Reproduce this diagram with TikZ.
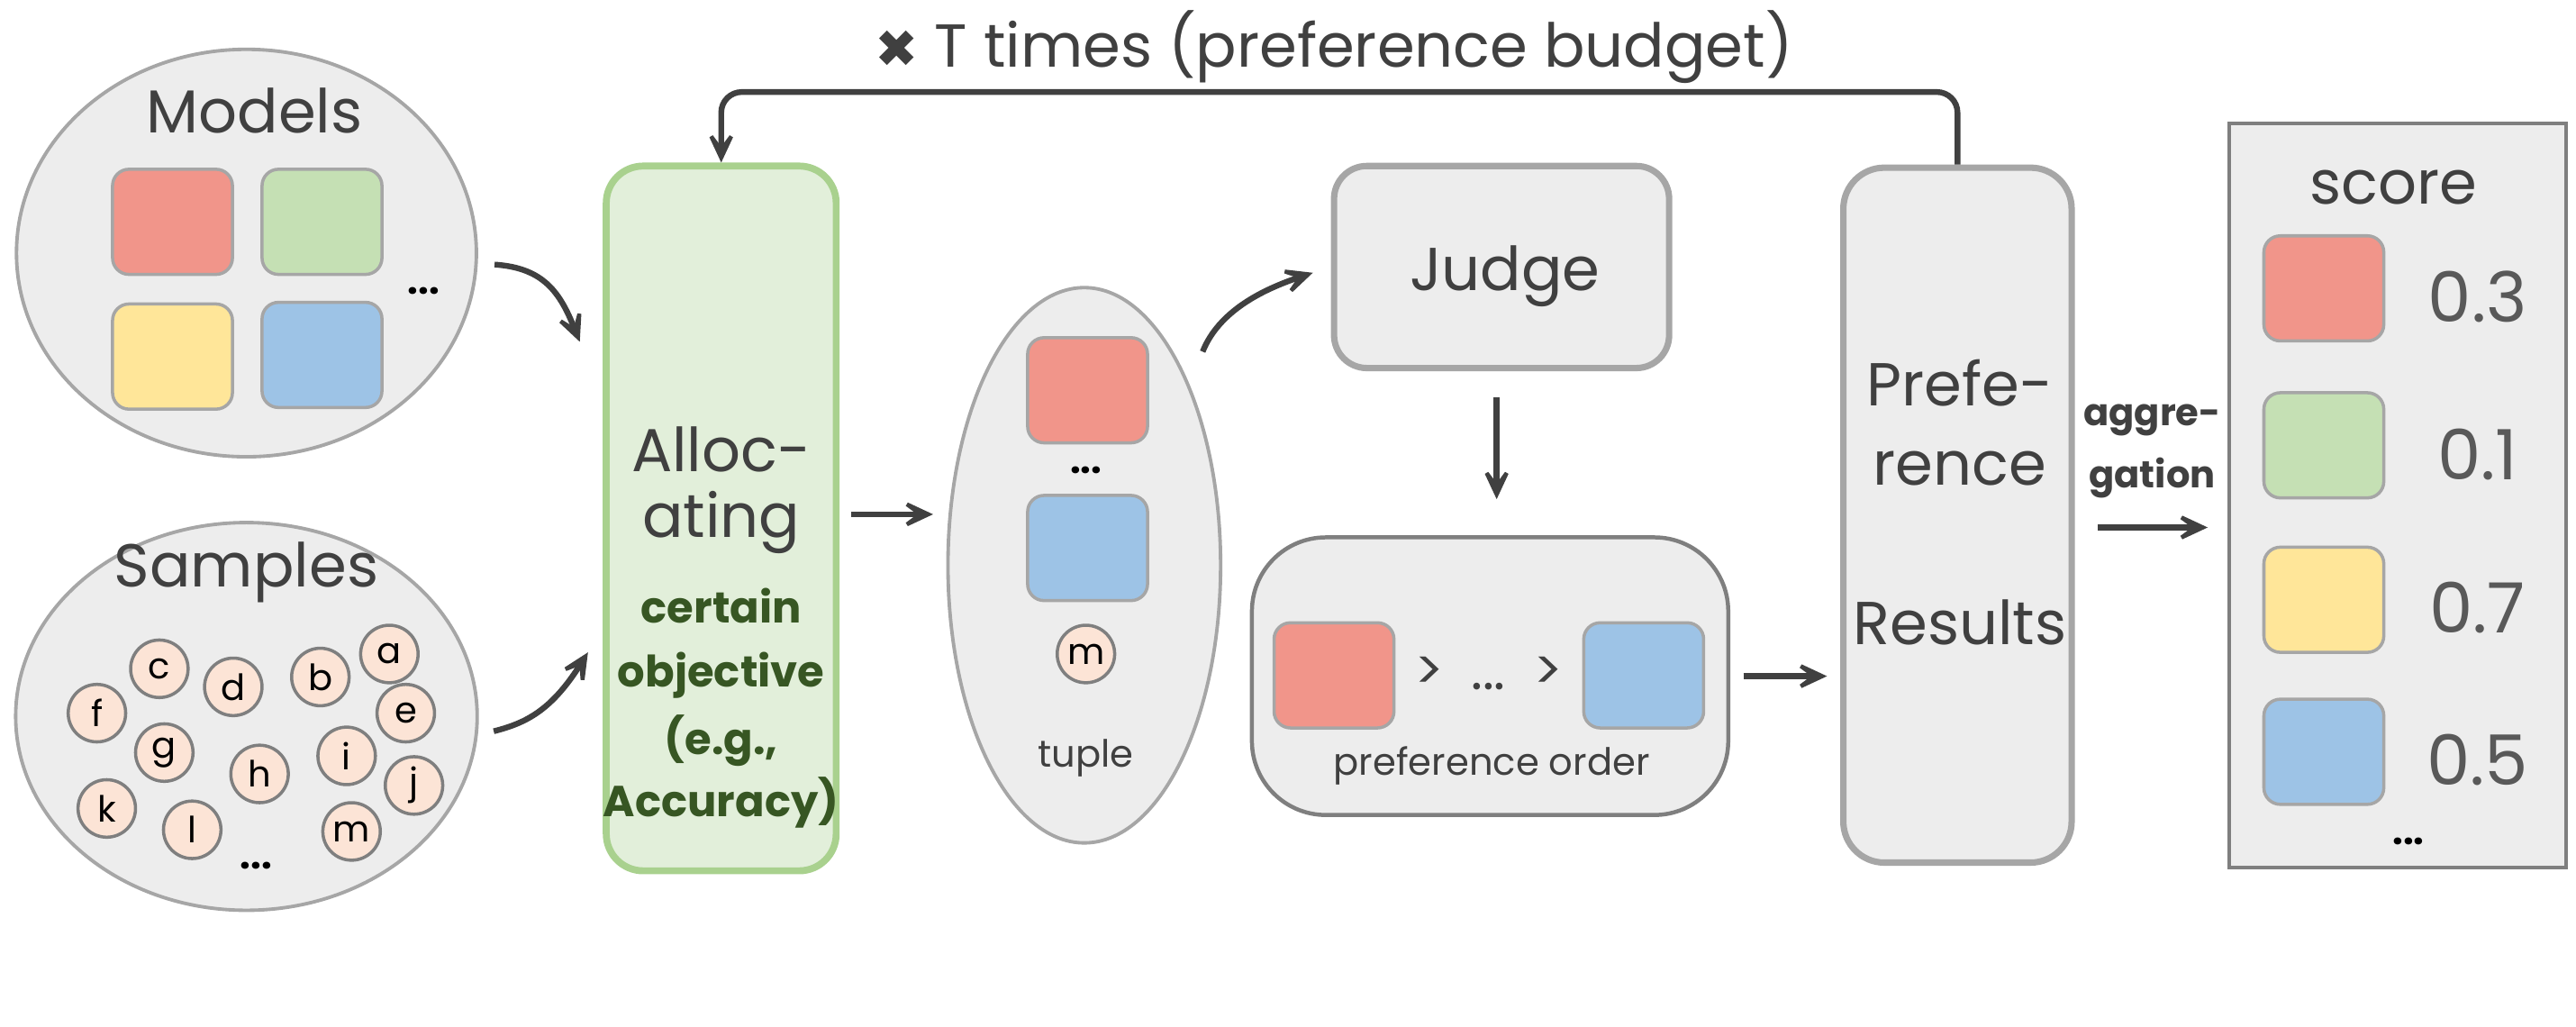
\documentclass[tikz,border=0pt]{standalone}
\usepackage{fontspec}
\setmainfont{Poppins}
\newfontfamily\symfont{DejaVu Sans}
\usetikzlibrary{shapes.geometric,arrows.meta,calc}
\definecolor{cred}{HTML}{F1958A}
\definecolor{cgreen}{HTML}{C5E0B4}
\definecolor{cyellow}{HTML}{FFE699}
\definecolor{cblue}{HTML}{9DC3E6}
\definecolor{sqline}{HTML}{A6A6A6}
\definecolor{blobfill}{HTML}{EDEDED}
\definecolor{darktext}{HTML}{404040}
\definecolor{numtext}{HTML}{595959}
\definecolor{allocfill}{HTML}{E2EFDA}
\definecolor{allocline}{HTML}{A9D18E}
\definecolor{greentext}{HTML}{375623}
\definecolor{ballfill}{HTML}{FCE4D6}
\definecolor{ballline}{HTML}{7F7F7F}
\newcommand\FBig{\fontsize{21}{25}\selectfont}
\newcommand\FNum{\fontsize{24}{28}\selectfont}
\newcommand\FMid{\fontsize{15}{18}\selectfont}
\newcommand\FSmall{\fontsize{13}{16}\selectfont}
\newcommand\FTiny{\fontsize{12.5}{14}\selectfont}
\begin{document}
\begin{tikzpicture}[x=0.02cm,y=-0.02cm,
  blob/.style={ellipse, draw=sqline, fill=blobfill, line width=1.2pt, inner sep=0pt},
  sq/.style={draw=sqline, line width=1.1pt, rounded corners=0.2cm, minimum width=1.46cm, minimum height=1.28cm, inner sep=0pt},
  ball/.style={circle, draw=ballline, fill=ballfill, line width=1.1pt, minimum size=0.7cm, inner sep=0pt, font=\FTiny, text=black},
  lbl/.style={inner sep=0pt, text=darktext},
  gtxt/.style={inner sep=0pt, text=greentext, font=\FMid\bfseries, anchor=base},
  bigbox/.style={draw=sqline, fill=blobfill, line width=2.2pt, inner sep=0pt},
  arr/.style={draw=darktext, line width=2pt, -{Stealth[length=15pt, width=14pt, inset=9.5pt]}},
  dots/.style={inner sep=0pt, text=black, font=\FSmall\bfseries}
]
\useasboundingbox (0,0) rectangle (1568,625);

% Models
\node[blob, minimum width=5.6cm, minimum height=4.96cm] (models) at (150,154) {};
\node[lbl, anchor=base] (modelsT) at (155,81) {\FBig Models};
\node[sq, fill=cred] (m1) at (105,135) {};
\node[sq, fill=cgreen] (m2) at (196,135) {};
\node[sq, fill=cyellow] (m3) at (105,217) {};
\node[sq, fill=cblue] (m4) at (196,216) {};
\node[dots] (mdots) at (258,177) {...};

% Samples
\node[blob, minimum width=5.62cm, minimum height=4.72cm] (samples) at (150,436) {};
\node[lbl, anchor=base] (samplesT) at (150,357) {\FBig Samples};
\node[ball] (sc) at (97,407) {c};
\node[ball] (sd) at (142,418) {d};
\node[ball] (sb) at (195,412) {b};
\node[ball] (sa) at (237,398) {a};
\node[ball] (sf) at (59,434) {f};
\node[ball] (se) at (247,434) {e};
\node[ball] (sg) at (100,458) {g};
\node[ball] (sh) at (158,471) {h};
\node[ball] (si) at (211,460) {i};
\node[ball] (sj) at (252,478) {j};
\node[ball] (sk) at (65,492) {k};
\node[ball] (sl) at (117,505) {l};
\node[ball] (sm) at (214,506) {m};
\node[dots] (sdots) at (156,527) {...};

% Allocating
\node[draw=allocline, fill=allocfill, line width=2.4pt, rounded corners=0.45cm, minimum width=2.8cm, minimum height=8.58cm, inner sep=0pt] (alloc) at (439,315.5) {};
\node[lbl, anchor=base] (allocT1) at (439,287) {\FBig Alloc-};
\node[lbl, anchor=base] (allocT2) at (439,327) {\FBig ating};
\node[gtxt] (g1) at (439,379) {certain};
\node[gtxt] (g2) at (439,418) {objective};
\node[gtxt] (g3) at (439,459) {(e.g.,};
\node[gtxt] (g4) at (439,497) {Accuracy)};

% tuple
\node[blob, minimum width=3.32cm, minimum height=6.76cm] (tuple) at (660,344) {};
\node[sq, fill=cred] (t1) at (662,237.5) {};
\node[dots] (tdots) at (661,286) {...};
\node[sq, fill=cblue] (t2) at (662,333.5) {};
\node[ball] (tm) at (661,398) {m};
\node[lbl, anchor=base, font=\FSmall] (tupleT) at (661,467) {tuple};

% Judge
\node[bigbox, rounded corners=0.4cm, minimum width=4.08cm, minimum height=2.46cm] (judge) at (914,162.5) {};
\node[lbl, anchor=base] (judgeT) at (916,177) {\FBig Judge};

% preference order
\node[draw=ballline, fill=blobfill, line width=1.4pt, rounded corners=0.9cm, minimum width=5.8cm, minimum height=3.38cm, inner sep=0pt] (pref) at (907,411.5) {};
\node[sq, fill=cred] (p1) at (812,411) {};
\node[sq, fill=cblue] (p2) at (1000.5,411) {};
\node[lbl, font=\fontsize{19}{22}\selectfont] (pgt) at (906,410) {>\enspace...\enspace>};
\node[lbl, anchor=base, font=\FSmall] (prefT) at (908,472) {preference order};

% Preference Results
\node[bigbox, rounded corners=0.5cm, minimum width=2.78cm, minimum height=8.46cm] (res) at (1191.5,313.5) {};
\node[lbl, anchor=base] (resT1) at (1193,247) {\FBig Prefe-};
\node[lbl, anchor=base] (resT2) at (1193,295) {\FBig rence};
\node[lbl, anchor=base] (resT3) at (1193,392) {\FBig Results};

% score
\node[draw=ballline, fill=blobfill, line width=1.4pt, minimum width=4.1cm, minimum height=9.06cm, inner sep=0pt] (score) at (1459.5,301.5) {};
\node[lbl, anchor=base] (scoreT) at (1457,124) {\FBig score};
\node[sq, fill=cred] (s1) at (1414.5,175.5) {};
\node[sq, fill=cgreen] (s2) at (1414.5,271) {};
\node[sq, fill=cyellow] (s3) at (1414.5,365) {};
\node[sq, fill=cblue] (s4) at (1414.5,457.5) {};
\node[lbl, anchor=base, text=numtext] (n1) at (1508,196) {\FNum 0.3};
\node[lbl, anchor=base, text=numtext] (n2) at (1508,292) {\FNum 0.1};
\node[lbl, anchor=base, text=numtext] (n3) at (1508,385) {\FNum 0.7};
\node[lbl, anchor=base, text=numtext] (n4) at (1508,478) {\FNum 0.5};
\node[dots] (scdots) at (1466,512) {...};

% aggregation
\node[lbl, anchor=base, font=\FSmall\bfseries] (agg1) at (1310,259) {aggre-};
\node[lbl, anchor=base, font=\FSmall\bfseries] (agg2) at (1310,297) {gation};
\draw[arr] ([xshift=0.28cm]res.east |- 0,321) -- ([xshift=-0.24cm]score.west |- 0,321);

% loop
\coordinate (loopy) at (0,56);
\node[lbl, anchor=base] (loopT) at (812,41) {\FBig{\symfont\fontsize{18}{20}\selectfont ✖} T times (preference budget)};
\draw[arr, rounded corners=0.25cm] (res.north) -- (res.north |- loopy) -- (alloc.north |- loopy) -- (alloc.north);

% connectors
\draw[arr] ([shift={(10,7)}]models.east) .. controls +(30,2) and +(-12,-30) .. ([shift={(-14,-107.5)}]alloc.west);
\draw[arr] ([shift={(9,9)}]samples.east) .. controls +(20,-5) and +(-22,35) .. ([shift={(-9,81.5)}]alloc.west);
\draw[arr] ([xshift=0.14cm]alloc.east |- 0,313) -- ([xshift=-0.16cm]tuple.west |- 0,313);
\draw[arr] ([shift={(-12,-130)}]tuple.east) .. controls +(10,-25) and +(-30,10) .. ([shift={(-11,3.5)}]judge.west);
\draw[arr] ([shift={(-3,16)}]judge.south) -- ([shift={(-3,-22)}]judge.south |- pref.north);
\draw[arr] ([xshift=0.16cm]pref.east) -- ([xshift=-0.16cm]res.west |- pref.east);
\end{tikzpicture}
\end{document}
